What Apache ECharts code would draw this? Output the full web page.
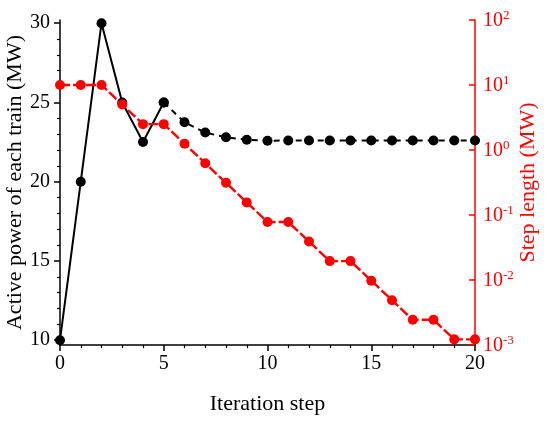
<!DOCTYPE html>
<html>
<head>
<meta charset="utf-8">
<script src="https://cdn.jsdelivr.net/npm/echarts@6/dist/echarts.min.js"></script>
<style>
html,body{margin:0;padding:0;background:#fff;}
#chart{width:550px;height:423px;}
</style>
</head>
<body>
<div id="chart"></div>
<script>
// Iteration steps
var steps = [0,1,2,3,4,5,6,7,8,9,10,11,12,13,14,15,16,17,18,19,20];
// Active power of each train (MW), left axis
var activePower = [10,20,30,25,22.5,25,23.75,23.1,22.8,22.65,22.58,22.6,22.6,22.6,22.6,22.6,22.6,22.6,22.6,22.6,22.6];
// Step length (MW), right log axis
var stepLength = [10,10,10,5,2.5,2.5,1.25,0.625,0.3125,0.15625,0.078125,0.078125,0.0390625,0.01953,0.01953,0.009766,0.004883,0.002441,0.002441,0.001221,0.001221];
// Index where black line switches from solid to dashed
var solidEnd = 5;
// Tick labels
var leftMajor = [10,15,20,25,30];
var leftMinor = [11,12,13,14,16,17,18,19,21,22,23,24,26,27,28,29];

var font = 'Liberation Serif';
var blackSolid = [], blackDashed = [], redData = [];
for (var i = 0; i < steps.length; i++) {
  if (i <= solidEnd) blackSolid.push([steps[i], activePower[i]]);
  if (i >= solidEnd) blackDashed.push([steps[i], activePower[i]]);
  redData.push([steps[i], stepLength[i]]);
}

var chart = echarts.init(document.getElementById('chart'), null, {renderer:'canvas'});
chart.setOption({
  animation: false,
  backgroundColor: '#fff',
  grid: {left: 60, right: 75, top: 20, bottom: 78, containLabel: false, outerBoundsMode: 'none'},
  xAxis: {
    type: 'value', min: 0, max: 20, interval: 5,
    name: 'Iteration step', nameLocation: 'middle', nameGap: 48, nameMoveOverlap: false,
    nameTextStyle: {fontFamily: font, fontSize: 22, color: '#000'},
    axisLine: {show: true, onZero: false, lineStyle: {color: '#000', width: 1.5}},
    axisTick: {show: true, inside: false, length: 6, lineStyle: {color: '#000', width: 1.5}},
    minorTick: {show: true, splitNumber: 5, length: 3, lineStyle: {color: '#000', width: 1.2}},
    axisLabel: {fontFamily: font, fontSize: 20, color: '#000', margin: 9},
    splitLine: {show: false}
  },
  yAxis: [
    {
      type: 'value', min: 9.7, max: 30.2, position: 'left',
      name: 'Active power of each train (MW)', nameLocation: 'middle', nameGap: 34, nameRotate: 90, nameMoveOverlap: false,
      nameTextStyle: {fontFamily: font, fontSize: 22, color: '#000'},
      axisLine: {show: true, onZero: false, lineStyle: {color: '#000', width: 1.5}},
      axisTick: {show: true, inside: false, length: 6, customValues: leftMajor, lineStyle: {color: '#000', width: 1.5}},
      axisLabel: {fontFamily: font, fontSize: 20, color: '#000', margin: 10, customValues: leftMajor},
      splitLine: {show: false}
    },
    {
      type: 'value', min: 9.7, max: 30.2, position: 'left',
      axisLine: {show: false},
      axisTick: {show: true, inside: false, length: 3, customValues: leftMinor, lineStyle: {color: '#000', width: 1.2}},
      axisLabel: {show: false},
      splitLine: {show: false}
    },
    {
      type: 'log', logBase: 10, min: 0.001, max: 100, position: 'right',
      name: 'Step length (MW)', nameLocation: 'middle', nameGap: 42, nameRotate: 90, nameMoveOverlap: false,
      nameTextStyle: {fontFamily: font, fontSize: 22, color: '#ff0000'},
      axisLine: {show: true, onZero: false, lineStyle: {color: '#ff0000', width: 1.5}},
      axisTick: {show: true, inside: true, length: 6, lineStyle: {color: '#ff0000', width: 1.5}},
      axisLabel: {
        margin: 8, color: '#ff0000',
        formatter: function (v) { return '{b|10}{s|' + Math.round(Math.log10(v)) + '}'; },
        rich: {
          b: {fontFamily: font, fontSize: 20, color: '#ff0000', verticalAlign: 'bottom'},
          s: {fontFamily: font, fontSize: 13, color: '#ff0000', verticalAlign: 'bottom', padding: [0, 0, 9, 0]}
        }
      },
      splitLine: {show: false}
    }
  ],
  series: [
    {
      type: 'line', yAxisIndex: 0, data: blackSolid, clip: false,
      symbol: 'circle', symbolSize: 10,
      lineStyle: {color: '#000', width: 2},
      itemStyle: {color: '#000'}, z: 2
    },
    {
      type: 'line', yAxisIndex: 0, data: blackDashed, clip: false,
      symbol: 'circle', symbolSize: 10,
      lineStyle: {color: '#000', width: 2, type: [6, 5]},
      itemStyle: {color: '#000'}, z: 2
    },
    {
      type: 'line', yAxisIndex: 2, data: redData, clip: false,
      symbol: 'circle', symbolSize: 10,
      lineStyle: {color: '#ff0000', width: 2.4, type: [10, 3]},
      itemStyle: {color: '#ff0000'}, z: 3
    }
  ]
});
</script>
</body>
</html>
